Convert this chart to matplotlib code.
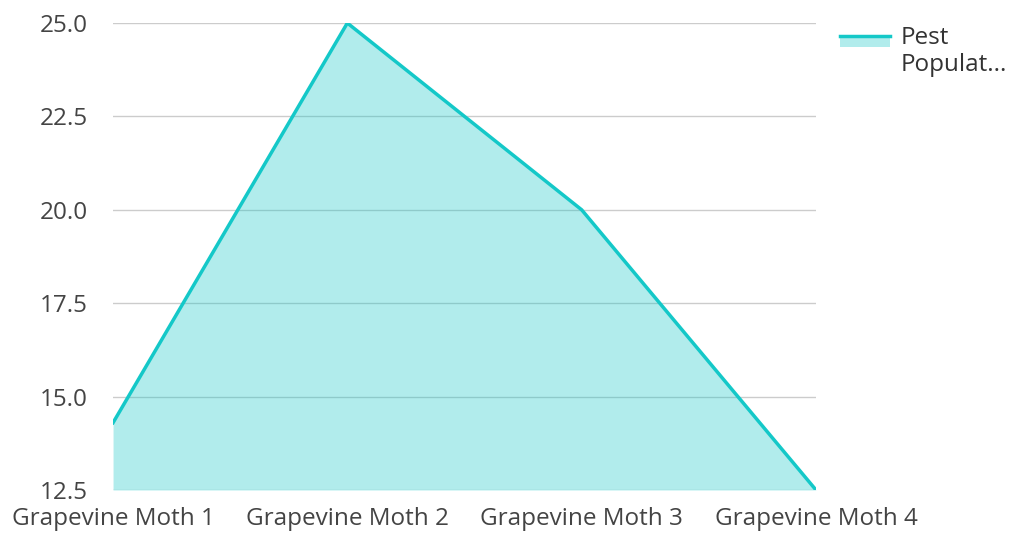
import matplotlib
matplotlib.use("Agg")
import matplotlib.pyplot as plt
from matplotlib.legend_handler import HandlerBase
from matplotlib.patches import Rectangle
from matplotlib.lines import Line2D

categories = ["Grapevine Moth 1", "Grapevine Moth 2", "Grapevine Moth 3", "Grapevine Moth 4"]
pest_population = [14.3, 25.0, 20.0, 12.5]
y_ticks = [12.5, 15.0, 17.5, 20.0, 22.5, 25.0]

LINE = "#14c8c8"
FILL_ALPHA = 0.33

plt.rcParams["font.family"] = ["Open Sans", "DejaVu Sans"]


class AreaHandler(HandlerBase):
    # teal line on top of a light swatch, pinned to the first text line
    def create_artists(self, legend, orig_handle, xdescent, ydescent,
                       width, height, fontsize, trans):
        top = -ydescent + height - fontsize * 0.16
        sw = fontsize * 0.45
        rect = Rectangle((-xdescent, top - sw), width, sw, facecolor=LINE,
                         alpha=FILL_ALPHA, edgecolor="none", transform=trans)
        line = Line2D([-xdescent, -xdescent + width], [top, top],
                      color=LINE, linewidth=2.5, transform=trans)
        return [rect, line]


fig = plt.figure(figsize=(10.12, 5.33), dpi=100)
ax = fig.add_axes([0.1117, 0.0807, 0.6946, 0.8761])

x = list(range(len(categories)))
ax.fill_between(x, pest_population, 12.5, color=LINE, alpha=FILL_ALPHA,
                linewidth=0, zorder=2)
ax.plot(x, pest_population, color=LINE, linewidth=2.5, zorder=3,
        solid_joinstyle="miter")

ax.set_xlim(0, len(categories) - 1)
ax.set_ylim(12.5, 25.0)
ax.set_yticks(y_ticks)
ax.set_yticklabels([f"{v:.1f}" for v in y_ticks])
ax.set_xticks(x)
ax.set_xticklabels(categories)
ax.tick_params(axis="both", length=0, labelsize=17.5, labelcolor="#444444")
ax.tick_params(axis="y", pad=18)
ax.tick_params(axis="x", pad=12)
for s in ax.spines.values():
    s.set_visible(False)
ax.grid(axis="y", color="#cccccc", linewidth=1, zorder=1)
ax.set_axisbelow(True)

handle = Rectangle((0, 0), 1, 1)
fig.legend([handle], ["Pest\nPopulat..."], handler_map={Rectangle: AreaHandler()},
           loc="upper left", bbox_to_anchor=(0.830, 0.952), frameon=False,
           borderpad=0, borderaxespad=0,
           fontsize=17.5, handlelength=2.06, handleheight=2.3, handletextpad=0.42,
           labelcolor="#333333")

fig.savefig("out.png", dpi=100, facecolor="white")
